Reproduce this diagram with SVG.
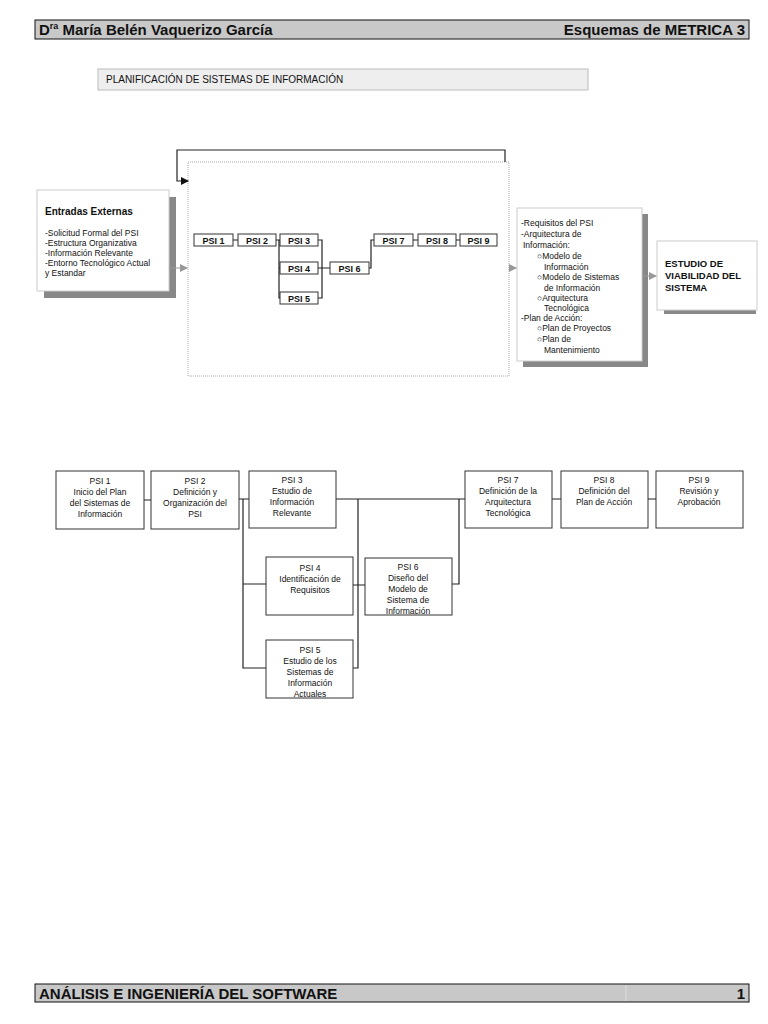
<svg xmlns="http://www.w3.org/2000/svg" width="768" height="1024" viewBox="0 0 768 1024">
<defs>
<style>
text{font-family:"Liberation Sans",Arial,sans-serif;fill:#111}
.hd{font-size:15px;font-weight:bold}
.sm{fill:#fff;stroke:#333;stroke-width:1}
.smt{font-size:9px;font-weight:bold;text-anchor:middle}
.bx{fill:#fff;stroke:#333;stroke-width:1}
.bt{font-size:8.5px;text-anchor:middle}
.ln{fill:none;stroke:#222;stroke-width:1.2}
.gl{fill:none;stroke:#999;stroke-width:1}
.lt{font-size:8.5px}
.sh{fill:#888}
</style>
<marker id="ab" markerWidth="8" markerHeight="8" refX="7" refY="4" orient="auto" markerUnits="userSpaceOnUse"><path d="M0,0 L8,4 L0,8 Z" fill="#111"/></marker>
<marker id="ag" markerWidth="8" markerHeight="8" refX="7" refY="4" orient="auto" markerUnits="userSpaceOnUse"><path d="M0,0 L8,4 L0,8 Z" fill="#999"/></marker>
</defs>
<rect width="768" height="1024" fill="#fff"/>
<g id="header">
<rect x="35" y="20" width="714" height="19" fill="#c8c8c8" stroke="#111"/>
<text x="39" y="35" class="hd">D<tspan font-size="9" dy="-6">ra</tspan><tspan dy="6"> María Belén Vaquerizo García</tspan></text>
<text x="745" y="35" class="hd" text-anchor="end">Esquemas de METRICA 3</text>
</g>
<g id="title">
<rect x="98" y="69" width="490" height="21" fill="#eee" stroke="#bbb"/>
<text x="106" y="83" font-size="10">PLANIFICACIÓN DE SISTEMAS DE INFORMACIÓN</text>
</g>
<g id="frame"><rect x="188" y="162" width="321" height="214" fill="none" stroke="#aaa" stroke-dasharray="1,1"/></g>
<g id="entradas">
<rect x="44" y="197" width="132" height="101" class="sh"/>
<rect x="37" y="190" width="132" height="101" fill="#fff" stroke="#ccc"/>
<text x="45" y="215" font-size="10" font-weight="bold">Entradas Externas</text>
<text class="lt" x="45" y="236">-Solicitud Formal del PSI</text>
<text class="lt" x="45" y="246">-Estructura Organizativa</text>
<text class="lt" x="45" y="256">-Información Relevante</text>
<text class="lt" x="45" y="266">-Entorno Tecnológico Actual</text>
<text class="lt" x="45" y="276"> y Estandar</text>
</g>
<g id="t1"><rect class="sm" x="194" y="234" width="39" height="12"/><text class="smt" x="213.5" y="244">PSI 1</text></g>
<g id="t2"><rect class="sm" x="238" y="234" width="38" height="12"/><text class="smt" x="257" y="244">PSI 2</text></g>
<g id="t3"><rect class="sm" x="280" y="234" width="38" height="12"/><text class="smt" x="299" y="244">PSI 3</text></g>
<g id="t4"><rect class="sm" x="280" y="262" width="38" height="12"/><text class="smt" x="299" y="272">PSI 4</text></g>
<g id="t5"><rect class="sm" x="280" y="292" width="38" height="12"/><text class="smt" x="299" y="302">PSI 5</text></g>
<g id="t6"><rect class="sm" x="330" y="262" width="39" height="12"/><text class="smt" x="349.5" y="272">PSI 6</text></g>
<g id="t7"><rect class="sm" x="374" y="234" width="39" height="12"/><text class="smt" x="393.5" y="244">PSI 7</text></g>
<g id="t8"><rect class="sm" x="418" y="234" width="38" height="12"/><text class="smt" x="437" y="244">PSI 8</text></g>
<g id="t9"><rect class="sm" x="460" y="234" width="37" height="12"/><text class="smt" x="478.5" y="244">PSI 9</text></g>
<g id="salidas">
<rect x="523" y="214" width="125" height="153" class="sh"/>
<rect x="517" y="208" width="125" height="153" fill="#fff" stroke="#ccc"/>
<text class="lt" x="521" y="226">-Requisitos del PSI</text>
<text class="lt" x="521" y="237">-Arquitectura de</text>
<text class="lt" x="523" y="248">Información:</text>
<text class="lt" x="537" y="259">○Modelo de</text>
<text class="lt" x="544" y="270">Información</text>
<text class="lt" x="537" y="280">○Modelo de Sistemas</text>
<text class="lt" x="544" y="291">de Información</text>
<text class="lt" x="537" y="301">○Arquitectura</text>
<text class="lt" x="544" y="311">Tecnológica</text>
<text class="lt" x="521" y="321">-Plan de Acción:</text>
<text class="lt" x="537" y="331">○Plan de Proyectos</text>
<text class="lt" x="537" y="342">○Plan de</text>
<text class="lt" x="544" y="353">Mantenimiento</text>
</g>
<g id="estudio">
<rect x="664" y="308" width="92" height="6" class="sh"/>
<rect x="657" y="241" width="100" height="69" fill="#fff" stroke="#ccc"/>
<text x="665" y="267" font-size="9.5" font-weight="bold">ESTUDIO DE</text>
<text x="665" y="279" font-size="9.5" font-weight="bold">VIABILIDAD DEL</text>
<text x="665" y="291" font-size="9.5" font-weight="bold">SISTEMA</text>
</g>
<g id="b1"><rect class="bx" x="56" y="471" width="88" height="58"/><text class="bt" x="100" y="484">PSI 1</text><text class="bt" x="100" y="495">Inicio del Plan</text><text class="bt" x="100" y="506">del Sistemas de</text><text class="bt" x="100" y="517">Información</text></g>
<g id="b2"><rect class="bx" x="151" y="471" width="88" height="58"/><text class="bt" x="195" y="484">PSI 2</text><text class="bt" x="195" y="495">Definición y</text><text class="bt" x="195" y="506">Organización del</text><text class="bt" x="195" y="517">PSI</text></g>
<g id="b3"><rect class="bx" x="249" y="471" width="87" height="57" stroke-width="1.3"/><text class="bt" x="292" y="483">PSI 3</text><text class="bt" x="292" y="494">Estudio de</text><text class="bt" x="292" y="505">Información</text><text class="bt" x="292" y="516">Relevante</text></g>
<g id="b4"><rect class="bx" x="266" y="557" width="87" height="58"/><text class="bt" x="310" y="571">PSI 4</text><text class="bt" x="310" y="582">Identificación de</text><text class="bt" x="310" y="593">Requisitos</text></g>
<g id="b5"><rect class="bx" x="266" y="640" width="87" height="58"/><text class="bt" x="310" y="653">PSI 5</text><text class="bt" x="310" y="664">Estudio de los</text><text class="bt" x="310" y="675">Sistemas de</text><text class="bt" x="310" y="686">Información</text><text class="bt" x="310" y="697">Actuales</text></g>
<g id="b6"><rect class="bx" x="365" y="558" width="87" height="57"/><text class="bt" x="408" y="570">PSI 6</text><text class="bt" x="408" y="581">Diseño del</text><text class="bt" x="408" y="592">Modelo de</text><text class="bt" x="408" y="603">Sistema de</text><text class="bt" x="408" y="614">Información</text></g>
<g id="b7"><rect class="bx" x="465" y="471" width="87" height="57"/><text class="bt" x="508" y="483">PSI 7</text><text class="bt" x="508" y="494">Definición de la</text><text class="bt" x="508" y="505">Arquitectura</text><text class="bt" x="508" y="516">Tecnológica</text></g>
<g id="b8"><rect class="bx" x="561" y="471" width="87" height="57"/><text class="bt" x="604" y="483">PSI 8</text><text class="bt" x="604" y="494">Definición del</text><text class="bt" x="604" y="505">Plan de Acción</text></g>
<g id="b9"><rect class="bx" x="656" y="471" width="87" height="57"/><text class="bt" x="699" y="483">PSI 9</text><text class="bt" x="699" y="494">Revisión y</text><text class="bt" x="699" y="505">Aprobación</text></g>
<g id="connectors">
<path class="ln" d="M505,162 V150 H177 V181 H188" marker-end="url(#ab)"/>
<path class="gl" d="M169,268 H187" marker-end="url(#ag)"/>
<path class="gl" d="M509,268 H516" marker-end="url(#ag)"/>
<path class="gl" d="M642,276 H656" marker-end="url(#ag)"/>
<path class="ln" d="M233,240 H238 M276,240 H280 M279,240 V298 H280 M279,268 H280 M318,240 H322 V298 H318 M318,268 H330 M369,268 H371 V240 H374 M413,240 H418 M456,240 H460"/>
<path class="ln" d="M144,500 H151 M239,499 H249 M243,499 V668 H266 M243,584 H266 M336,499 H465 M358,499 V668 H353 M353,585 H365 M459,499 V584 H452 M552,499 H561 M648,499 H656"/>
</g>
<g id="footer">
<rect x="35" y="984" width="714" height="18" fill="#c8c8c8" stroke="#111"/>
<line x1="626" y1="985" x2="626" y2="1001" stroke="#ddd"/>
<text x="39" y="999" class="hd">ANÁLISIS E INGENIERÍA DEL SOFTWARE</text>
<text x="745" y="999" class="hd" text-anchor="end">1</text>
</g>
</svg>
